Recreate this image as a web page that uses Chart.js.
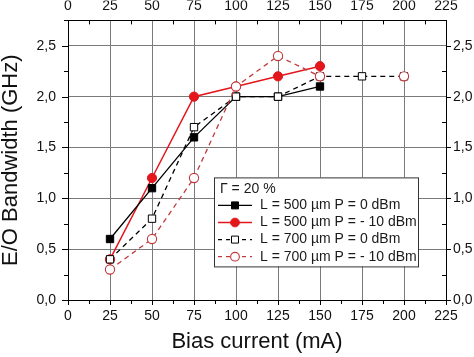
<!DOCTYPE html>
<html><head><meta charset="utf-8">
<script src="https://cdn.jsdelivr.net/npm/chart.js@4"></script>
<style>html,body{margin:0;padding:0;background:#fff}canvas{display:block}</style>
</head><body>
<canvas id="c" width="474" height="357"></canvas>
<script>
// ---- data ----
const current = [25, 50, 75, 100, 125, 150, 175, 200];
const bw500_0dBm   = [0.6, 1.1, 1.6, 2.0, 2.0, 2.1, null, null];
const bw500_m10dBm = [0.4, 1.2, 2.0, 2.1, 2.2, 2.3, null, null];
const bw700_0dBm   = [0.4, 0.8, 1.7, 2.0, 2.0, 2.2, 2.2, 2.2];
const bw700_m10dBm = [0.3, 0.6, 1.2, 2.1, 2.4, 2.2, null, 2.2];
const xTicks = [0, 25, 50, 75, 100, 125, 150, 175, 200, 225];
const yTicks = [0, 0.5, 1.0, 1.5, 2.0, 2.5];
const seriesLabels = ['L = 500 µm P = 0 dBm', 'L = 500 µm P = - 10 dBm', 'L = 700 µm P = 0 dBm', 'L = 700 µm P = - 10 dBm'];
const legendTitle = 'Γ = 20 %';
const xTitle = 'Bias current (mA)';
const yTitle = 'E/O Bandwidth (GHz)';

const FONT = '"Liberation Sans", Arial, sans-serif';
const RED = '#e3161c';
const DRED = '#c0393c';
const toPts = arr => current.map((x, i) => ({x, y: arr[i]}));

const datasets = [
  {label: seriesLabels[0], data: toPts(bw500_0dBm), borderColor: '#000', backgroundColor: '#000',
   pointStyle: 'rect', pointRadius: 5.2, pointBorderWidth: 1, borderWidth: 1.3, order: 2},
  {label: seriesLabels[1], data: toPts(bw500_m10dBm), borderColor: RED, backgroundColor: RED,
   pointStyle: 'circle', pointRadius: 4.6, pointBorderWidth: 1, borderWidth: 1.5, order: 3},
  {label: seriesLabels[2], data: toPts(bw700_0dBm), borderColor: '#000', backgroundColor: '#fff',
   pointStyle: 'rect', pointRadius: 5.2, pointBorderWidth: 1, borderWidth: 1.3, borderDash: [5, 4], order: 1},
  {label: seriesLabels[3], data: toPts(bw700_m10dBm), borderColor: DRED, backgroundColor: '#fff',
   pointStyle: 'circle', pointRadius: 4.6, pointBorderWidth: 1.1, borderWidth: 1.3, borderDash: [5, 4], order: 0, spanGaps: false}
];

const tickFont = {family: FONT, size: 14};
const setTicks = list => scale => { scale.ticks = list.map(v => ({value: v})); };
const fmtY = v => Number(v).toFixed(1).replace('.', ',');

const tickPlugin = {
  id: 'minorTicks',
  afterDraw(chart) {
    const {ctx, chartArea: a, scales: {x, y}} = chart;
    ctx.save();
    ctx.strokeStyle = '#000';
    ctx.lineWidth = 1;
    ctx.beginPath();
    const xs = [];
    for (let i = 0; i < xTicks.length; i++) {
      xs.push([xTicks[i], true]);
      if (i < xTicks.length - 1) xs.push([(xTicks[i] + xTicks[i + 1]) / 2, false]);
    }
    xs.forEach(([v, major]) => {
      const px = Math.round(x.getPixelForValue(v)) + 0.5;
      ctx.moveTo(px, a.bottom); ctx.lineTo(px, a.bottom + (major ? 5 : 4));
      if (!major) { ctx.moveTo(px, a.top); ctx.lineTo(px, a.top + 4); }
    });
    const ys = [];
    for (let i = 0; i < yTicks.length; i++) {
      ys.push([yTicks[i], true]);
      ys.push([yTicks[i] + (yTicks[1] - yTicks[0]) / 2, false]);
    }
    ys.forEach(([v, major]) => {
      const py = Math.round(y.getPixelForValue(v)) + 0.5;
      if (major) {
        ctx.moveTo(a.left, py); ctx.lineTo(a.left - 6, py);
        ctx.moveTo(a.right, py); ctx.lineTo(a.right + 5, py);
      } else {
        ctx.moveTo(a.left, py); ctx.lineTo(a.left - 4, py);
        ctx.moveTo(a.right, py); ctx.lineTo(a.right - 4, py);
      }
    });
    ctx.stroke();
    ctx.restore();
  }
};

const legendPlugin = {
  id: 'boxLegend',
  afterDatasetsDraw(chart) {
    const {ctx, chartArea: a} = chart;
    const bx = a.left + 146, by = a.top + 157, bw = 204, bh = 89;
    ctx.save();
    ctx.fillStyle = '#fff';
    ctx.fillRect(bx, by, bw, bh);
    ctx.strokeStyle = '#333';
    ctx.lineWidth = 1;
    ctx.strokeRect(bx + 0.5, by + 0.5, bw, bh);
    ctx.fillStyle = '#1a1a1a';
    ctx.font = '14px ' + FONT;
    ctx.textBaseline = 'middle';
    ctx.textAlign = 'left';
    ctx.fillText(legendTitle, bx + 6, by + 12);
    datasets.forEach((ds, i) => {
      const cy = by + 28 + i * 17.1;
      ctx.save();
      ctx.strokeStyle = ds.borderColor;
      ctx.lineWidth = ds.borderWidth;
      ctx.setLineDash(ds.borderDash ? [4, 4] : []);
      ctx.beginPath();
      ctx.moveTo(bx + 4, cy); ctx.lineTo(bx + 38, cy);
      ctx.stroke();
      ctx.restore();
      ctx.save();
      ctx.fillStyle = ds.backgroundColor;
      ctx.strokeStyle = ds.borderColor;
      ctx.lineWidth = ds.pointBorderWidth;
      Chart.helpers.drawPoint(ctx, {pointStyle: ds.pointStyle, radius: ds.pointRadius * 0.95, borderWidth: ds.pointBorderWidth}, bx + 21, cy);
      ctx.restore();
      ctx.fillStyle = '#1a1a1a';
      ctx.fillText(ds.label, bx + 46, cy);
    });
    ctx.restore();
  }
};

new Chart(document.getElementById('c'), {
  type: 'line',
  data: {datasets},
  options: {
    responsive: false,
    animation: false,
    layout: {padding: 0},
    plugins: {legend: {display: false}, tooltip: {enabled: false}},
    scales: {
      x: {
        type: 'linear', position: 'bottom', min: 0, max: 225,
        afterBuildTicks: setTicks(xTicks),
        afterFit: s => { s.height = 57; },
        grid: {color: '#7a7a7a', lineWidth: 1, drawTicks: false},
        border: {color: '#000', width: 1},
        ticks: {font: tickFont, color: '#111', padding: 8, maxRotation: 0},
        title: {display: true, text: xTitle, font: {family: FONT, size: 22, lineHeight: 1}, color: '#111', padding: {top: 0, bottom: 4}}
      },
      x2: {
        type: 'linear', position: 'top', min: 0, max: 225,
        afterBuildTicks: setTicks(xTicks),
        afterFit: s => { s.height = 20; },
        grid: {drawOnChartArea: false, drawTicks: false},
        border: {color: '#000', width: 1},
        ticks: {font: tickFont, color: '#111', padding: 6, maxRotation: 0}
      },
      y: {
        position: 'left', min: 0, max: 2.75,
        afterBuildTicks: setTicks(yTicks),
        afterFit: s => { s.width = 68; },
        grid: {color: '#7a7a7a', lineWidth: 1, drawTicks: false},
        border: {color: '#000', width: 1},
        ticks: {font: tickFont, color: '#111', padding: 12, callback: fmtY},
        title: {display: true, text: yTitle, font: {family: FONT, size: 22, lineHeight: 1}, color: '#111', padding: {top: 0, bottom: 0}}
      },
      y2: {
        position: 'right', min: 0, max: 2.75,
        afterBuildTicks: setTicks(yTicks),
        afterFit: s => { s.width = 28; },
        grid: {drawOnChartArea: false, drawTicks: false},
        border: {color: '#000', width: 1},
        ticks: {font: tickFont, color: '#111', padding: 7, callback: fmtY}
      }
    }
  },
  plugins: [tickPlugin, legendPlugin]
});
</script>
</body></html>
